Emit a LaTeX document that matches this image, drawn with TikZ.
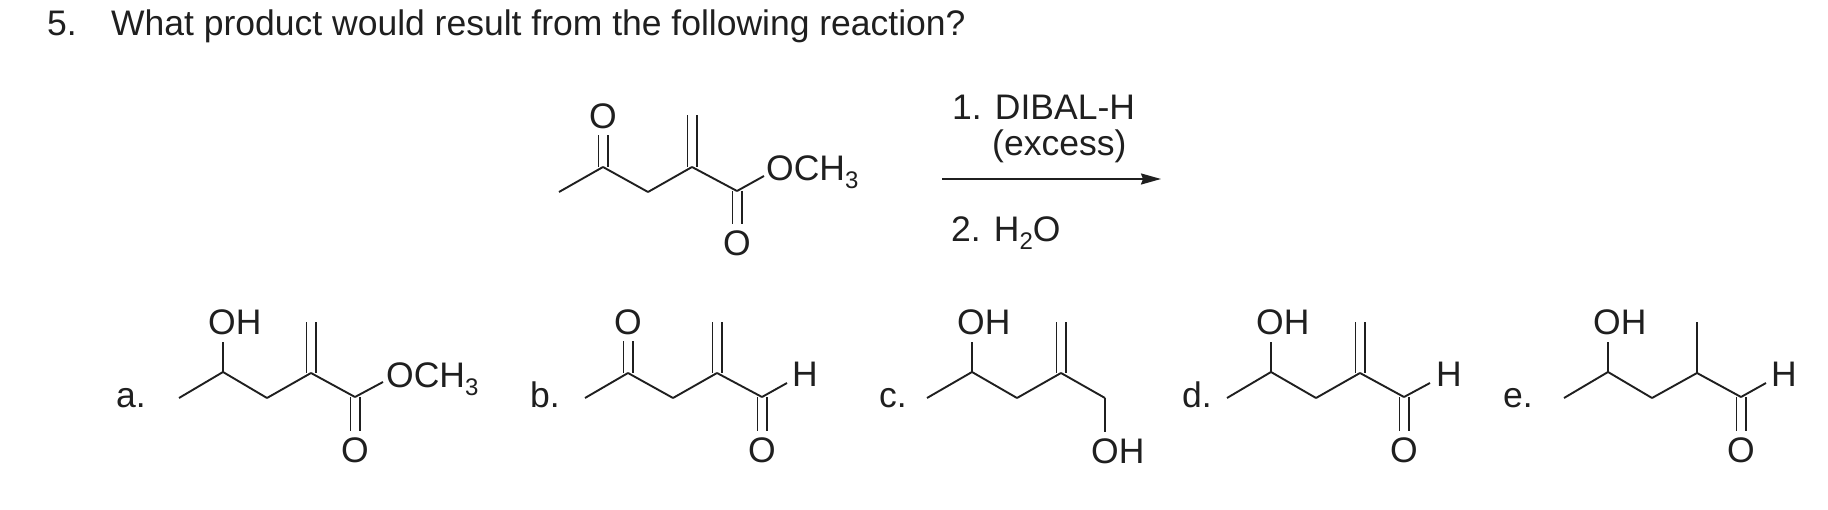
\documentclass[tikz,border=0pt]{standalone}
\usepackage{fontspec}
\setmainfont{Liberation Sans}
\usetikzlibrary{arrows.meta}
\tikzset{>/.tip={Stealth[length=20pt,width=11pt,inset=2pt]}}
\tikzset{bond/.style={line width=1.9pt,color=black!88},
  dbl/.style={bond,double=white,double distance=7.2pt},
  ohbond/.style={bond,shorten >=6pt},
  atom/.style={inner sep=0pt,font=\fontsize{35.5}{35.5}\selectfont,text=black!88,anchor=base west},
  oatom/.style={inner xsep=0pt,inner ysep=6pt,font=\fontsize{35.5}{35.5}\selectfont,text=black!88},
  txt/.style={atom}}
\newcommand{\atomsub}[1]{\raisebox{-0.22em}{\fontsize{24}{24}\selectfont #1}}
\begin{document}
\begin{tikzpicture}[x=1pt,y=-1pt]
\useasboundingbox (0,0) rectangle (1828,510);
% question
\node[txt] (qnum) at (47,36) {5.};
\node[txt] (qtext) at (111,36) {What product would result from the following reaction?};

% reactant
\coordinate (r1) at (559,192);
\coordinate (r2) at (603,167);
\coordinate (r3) at (648,192);
\coordinate (r4) at (692,167);
\coordinate (r5) at (737,191);
\coordinate (rv) at (692,115);
\coordinate (rb) at (764,176);
\node[oatom] (ro1) at (603,116) {O};
\node[oatom] (ro2) at (737,243) {O};
\node[atom] (rome) at (766,181) {OCH\atomsub{3}};
\draw[dbl] (r2) to (ro1);
\draw[dbl] (r4) to (rv);
\draw[dbl] (r5) to (ro2);
\draw[bond] (r1) to (r2);
\draw[bond] (r2) to (r3);
\draw[bond] (r3) to (r4);
\draw[bond] (r4) to (r5);
\draw[bond] (r5) to (rb);

% reagents
\coordinate (arr1) at (942,179);
\coordinate (arr2) at (1161,179);
\draw[bond,->] (arr1) to (arr2);
\node[txt] (rg1) at (952,120) {1. DIBAL-H};
\node[txt] (rg2) at (992,156) {(excess)};
\node[txt] (rg3) at (951,242) {2. H\atomsub{2}O};

% a
\node[txt] (la) at (116,407) {a.};
\coordinate (a1) at (179,398);
\coordinate (a2) at (223,372);
\coordinate (a3) at (267,398);
\coordinate (a4) at (311,373);
\coordinate (a5) at (355,397);
\coordinate (av) at (311,322);
\coordinate (ab) at (383,382);
\node[atom] (aoh) at (208,335) {OH};
\node[oatom] (ao) at (355,450) {O};
\node[atom] (aome) at (386,388) {OCH\atomsub{3}};
\draw[dbl] (a4) to (av);
\draw[dbl] (a5) to (ao);
\draw[bond] (a1) to (a2);
\draw[bond] (a2) to (a3);
\draw[bond] (a3) to (a4);
\draw[bond] (a4) to (a5);
\draw[ohbond] (a2) to (a2 |- aoh.south);
\draw[bond] (a5) to (ab);

% b
\node[txt] (lb) at (530,407) {b.};
\coordinate (b1) at (585,398);
\coordinate (b2) at (628,373);
\coordinate (b3) at (673,398);
\coordinate (b4) at (717,373);
\coordinate (b5) at (762,397);
\coordinate (bv) at (717,322);
\coordinate (bb) at (787,383);
\node[oatom] (bo1) at (628,322) {O};
\node[oatom] (bo2) at (762,450) {O};
\node[atom] (bh) at (792,386) {H};
\draw[dbl] (b2) to (bo1);
\draw[dbl] (b4) to (bv);
\draw[dbl] (b5) to (bo2);
\draw[bond] (b1) to (b2);
\draw[bond] (b2) to (b3);
\draw[bond] (b3) to (b4);
\draw[bond] (b4) to (b5);
\draw[bond] (b5) to (bb);

% c
\node[txt] (lc) at (879,407) {c.};
\coordinate (c1) at (927,398);
\coordinate (c2) at (972,372);
\coordinate (c3) at (1017,398);
\coordinate (c4) at (1061,373);
\coordinate (c5) at (1105,398);
\coordinate (cv) at (1061,322);
\node[atom] (coh) at (957,335) {OH};
\node[atom] (coh2) at (1091,463) {OH};
\draw[dbl] (c4) to (cv);
\draw[bond] (c1) to (c2);
\draw[bond] (c2) to (c3);
\draw[bond] (c3) to (c4);
\draw[bond] (c4) to (c5);
\draw[ohbond] (c2) to (c2 |- coh.south);
\draw[ohbond] (c5) to (c5 |- coh2.north);

% d
\node[txt] (ld) at (1182,407) {d.};
\coordinate (d1) at (1227,398);
\coordinate (d2) at (1271,372);
\coordinate (d3) at (1316,398);
\coordinate (d4) at (1360,373);
\coordinate (d5) at (1404,397);
\coordinate (dv) at (1360,322);
\coordinate (db) at (1430,383);
\node[atom] (doh) at (1256,335) {OH};
\node[oatom] (do) at (1404,450) {O};
\node[atom] (dh) at (1436,386) {H};
\draw[dbl] (d4) to (dv);
\draw[dbl] (d5) to (do);
\draw[bond] (d1) to (d2);
\draw[bond] (d2) to (d3);
\draw[bond] (d3) to (d4);
\draw[bond] (d4) to (d5);
\draw[ohbond] (d2) to (d2 |- doh.south);
\draw[bond] (d5) to (db);

% e
\node[txt] (le) at (1503,407) {e.};
\coordinate (e1) at (1564,398);
\coordinate (e2) at (1608,372);
\coordinate (e3) at (1652,398);
\coordinate (e4) at (1697,373);
\coordinate (e5) at (1741,397);
\coordinate (ev) at (1697,322);
\coordinate (eb) at (1766,383);
\node[atom] (eoh) at (1593,335) {OH};
\node[oatom] (eo) at (1741,450) {O};
\node[atom] (eh) at (1771,386) {H};
\draw[dbl] (e5) to (eo);
\draw[bond] (e1) to (e2);
\draw[bond] (e2) to (e3);
\draw[bond] (e3) to (e4);
\draw[bond] (e4) to (e5);
\draw[bond] (e4) to (ev);
\draw[ohbond] (e2) to (e2 |- eoh.south);
\draw[bond] (e5) to (eb);
\end{tikzpicture}
\end{document}
